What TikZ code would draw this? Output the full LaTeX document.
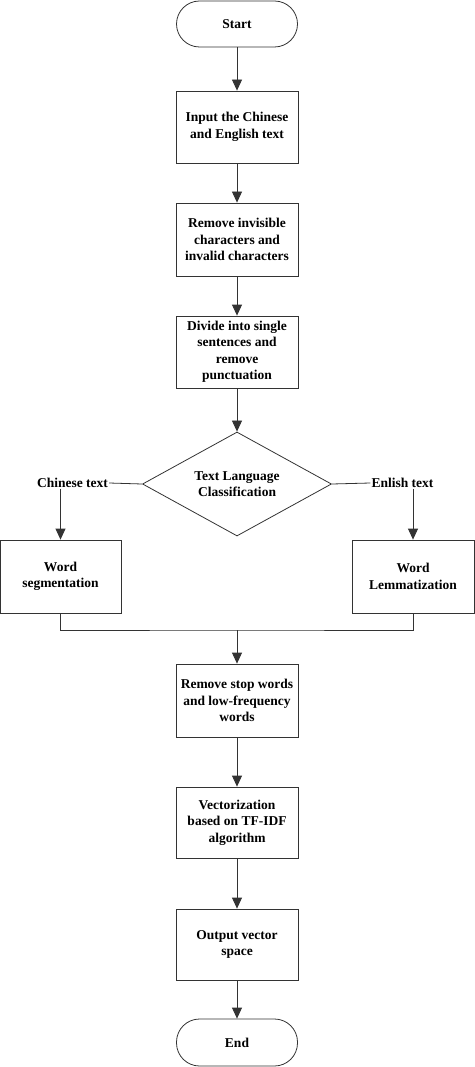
\documentclass[tikz,border=0pt]{standalone}
\usepackage{fontspec}
\setmainfont{Liberation Serif}
\usetikzlibrary{shapes.geometric,arrows.meta}
\begin{document}
\begin{tikzpicture}[x=1pt,y=-1pt,
  every node/.style={font=\fontsize{13.5}{16.5}\selectfont\bfseries, align=center, text=black},
  proc/.style={draw=black!80, line width=0.8pt, minimum width=122pt, minimum height=72pt, inner sep=1pt},
  term/.style={draw=black!80, line width=0.8pt, minimum width=121pt, minimum height=46pt, rounded corners=23pt},
  dec/.style={draw=black!80, line width=0.8pt, diamond, minimum width=189pt, minimum height=104pt, inner sep=0pt, aspect=1.8},
  lab/.style={inner sep=1pt},
  conn/.style={draw=black!80, line width=0.8pt},
  arr/.style={conn, -{Triangle[length=11pt,width=10pt]}}]
\useasboundingbox (0,0) rectangle (474,1067);
\node[term] (start) at (237,24) {Start};
\node[proc] (input) at (237,127) {Input the Chinese\\and English text};
\node[proc, minimum height=73pt] (remove) at (237,239.5) {Remove invisible\\characters and\\invalid characters};
\node[proc] (divide) at (237,352) {Divide into single\\sentences and\\remove\\punctuation};
\node[dec] (cls) at (237,484) {Text Language\\Classification};
\node[lab] (cn) at (72.5,483) {Chinese text};
\node[lab] (en) at (402.5,483) {Enlish text};
\node[proc, minimum width=121pt, minimum height=73pt] (seg) at (60.5,576.5) {Word\\segmentation};
\node[proc, minimum height=73pt] (lem) at (413,576.5) {Word\\Lemmatization};
\coordinate (merge) at (237,630);
\node[proc, minimum height=73pt] (stop) at (237,700.5) {Remove stop words\\and low-frequency\\words};
\node[proc, minimum height=71pt] (vec) at (237,822.5) {Vectorization\\based on TF-IDF\\algorithm};
\node[proc, minimum height=71pt] (out) at (237,944.5) {Output vector\\space};
\node[term, minimum height=47pt] (end) at (237,1042.5) {End};
\draw[arr] (start) -- (input);
\draw[arr] (input) -- (remove);
\draw[arr] (remove) -- (divide);
\draw[arr] (divide) -- (cls);
\draw[conn] (cls.west) -- (cn.east);
\draw[conn] (cls.east) -- (en.west);
\draw[arr] (cn.south -| seg.north) -- (seg.north);
\draw[arr] (en.south -| lem.north) -- (lem.north);
\draw[conn] (seg.south) |- (merge) -| (lem.south);
\draw[arr] (merge) -- (stop.north);
\draw[arr] (stop) -- (vec);
\draw[arr] (vec) -- (out);
\draw[arr] (out) -- (end);
\end{tikzpicture}
\end{document}
